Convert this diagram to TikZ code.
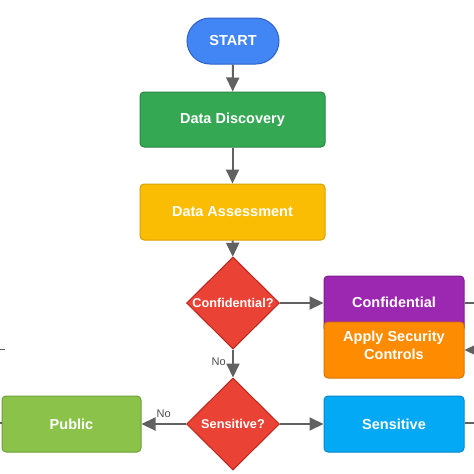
\documentclass[tikz,border=0pt]{standalone}
\usepackage{fontspec}
\setmainfont{Liberation Sans}
\usetikzlibrary{shapes.geometric,arrows.meta}
\definecolor{cblue}{HTML}{4285F4}
\definecolor{cblueb}{HTML}{2F62C4}
\definecolor{cgreen}{HTML}{34A853}
\definecolor{cgreenb}{HTML}{2A8742}
\definecolor{cyellow}{HTML}{FBBC04}
\definecolor{cyellowb}{HTML}{D9A203}
\definecolor{cred}{HTML}{EA4335}
\definecolor{credb}{HTML}{B8261C}
\definecolor{cpurple}{HTML}{9C27B0}
\definecolor{cpurpleb}{HTML}{7E1F8F}
\definecolor{corange}{HTML}{FF8C00}
\definecolor{corangeb}{HTML}{D97700}
\definecolor{clime}{HTML}{8BC34A}
\definecolor{climeb}{HTML}{6FA03A}
\definecolor{csky}{HTML}{03A9F4}
\definecolor{cskyb}{HTML}{0288C9}
\definecolor{cline}{HTML}{616161}
\tikzset{
  boxtext/.style={text=white, font=\fontsize{14.5}{18}\selectfont\bfseries, align=center},
  box/.style={rectangle, rounded corners=4pt, inner sep=0pt, line width=1pt, boxtext},
  dec/.style={diamond, aspect=1, inner sep=0pt, line width=1pt, fill=cred, draw=credb,
    minimum width=93pt, minimum height=92pt},
  dlabel/.style={text=white, font=\fontsize{12.7}{15}\selectfont\bfseries},
  conn/.style={draw=cline, line width=2pt, -{Triangle[length=14pt,width=13pt]}},
  plain/.style={draw=cline, line width=2pt},
  nolab/.style={text=cline!80!black, font=\fontsize{11}{13}\selectfont}
}
\begin{document}
\begin{tikzpicture}[x=1pt,y=-1pt]
\useasboundingbox (0,0) rectangle (474,474);
\fill[white] (0,0) rectangle (474,474);
\node[box, fill=cblue, draw=cblueb, rounded corners=23pt, minimum width=92pt, minimum height=46pt] (start) at (233,41) {START};
\node[box, fill=cgreen, draw=cgreenb, minimum width=185pt, minimum height=55pt] (disc) at (232.5,119.5) {Data Discovery};
\node[box, fill=cyellow, draw=cyellowb, minimum width=185pt, minimum height=56pt] (assess) at (232.5,212) {Data Assessment};
\node[dec, label={[dlabel]center:Confidential?}] (q1) at (233,303) {};
\node[dec, label={[dlabel]center:Sensitive?}] (q2) at (233,424) {};
\node[box, fill=cpurple, draw=cpurpleb, minimum width=140pt, minimum height=56pt, text depth=0pt] (conf) at (394,304) {\raisebox{4pt}{Confidential}};
\node[box, fill=corange, draw=corangeb, minimum width=140pt, minimum height=56pt,
  label={[boxtext, yshift=5pt]center:{Apply Security\\Controls}}] (apply) at (394,350) {};
\node[box, fill=clime, draw=climeb, minimum width=139pt, minimum height=56pt] (public) at (71.5,424) {Public};
\node[box, fill=csky, draw=cskyb, minimum width=140pt, minimum height=56pt] (sens) at (394,424) {Sensitive};
\coordinate (rc) at (474,303);
\coordinate (ra) at (474,350);
\coordinate (rs) at (474,423);
\coordinate (lp) at (0,423);
\coordinate (ls1) at (0,349);
\coordinate (ls2) at (5,349);
\draw[conn] (start) -- (disc);
\draw[conn] (disc) -- (assess);
\draw[conn] (assess) -- (q1);
\draw[conn] (q1.east) -- (q1.east -| conf.west);
\draw[conn] (q1) -- node[nolab, left=3pt, pos=0.45] {No} (q2);
\draw[conn] (q2.west) -- node[nolab, above=2pt] {No} (q2.west -| public.east);
\draw[conn] (q2.east) -- (q2.east -| sens.west);
\draw[plain] (conf.east |- rc) -- (rc);
\draw[conn] (ra) -- (apply.east |- ra);
\draw[plain] (sens.east |- rs) -- (rs);
\draw[plain] (lp) -- (public.west |- lp);
\draw[plain, line width=1pt] (ls1) -- (ls2);
\end{tikzpicture}
\end{document}
